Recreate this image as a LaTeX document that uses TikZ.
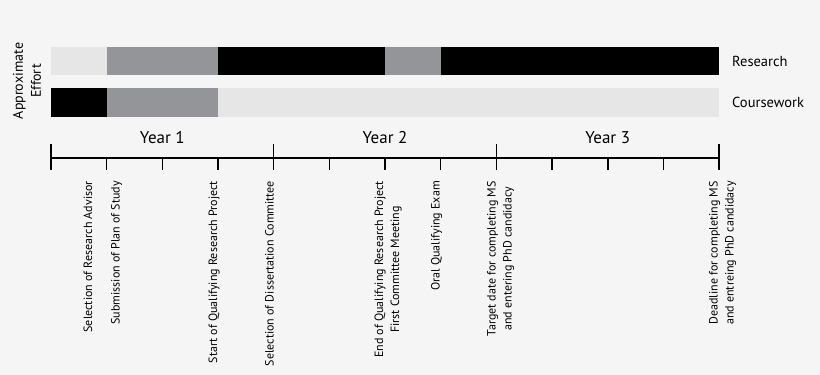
\documentclass[tikz,border=0pt]{standalone}
\usepackage{fontspec}
\setmainfont{PT Sans}
\usetikzlibrary{positioning}
\definecolor{pagebg}{HTML}{F5F5F5}
\definecolor{effortlow}{HTML}{E6E6E6}
\definecolor{effortmid}{HTML}{939598}

\begin{document}
\begin{tikzpicture}[x=1pt,y=-1pt,
  milestone/.style={rotate=90,anchor=east,inner sep=0pt,align=center,font=\fontsize{12}{16}\selectfont},
  yearlabel/.style={font=\fontsize{17}{20}\selectfont},
  rowlabel/.style={anchor=west,inner sep=0pt,font=\fontsize{14.5}{17}\selectfont}]
 \fill[pagebg] (0,0) rectangle (820,375);
 % effort bars, one unit = one third of a year
 \begin{scope}[xshift=51pt,x=55.67pt]
  \foreach \a/\b/\c in {0/1/effortlow,1/3/effortmid,3/6/black,6/7/effortmid,7/12/black}
   \fill[\c] (\a,47) rectangle (\b,75);
  \foreach \a/\b/\c in {0/1/black,1/3/effortmid,3/12/effortlow}
   \fill[\c] (\a,88) rectangle (\b,117);
  % time axis
  \draw[line width=1.6pt] (0,158) -- (12,158);
  \foreach \t in {1,2,3,5,6,7,9,10,11}{\draw[line width=1.6pt] (\t,158) -- (\t,170);}
  \foreach \t in {0,4,8,12}{\draw[line width=1.6pt] (\t,144) -- (\t,170);}
  \foreach \t/\n in {2/1,6/2,10/3}{\node[yearlabel] (year\n) at (\t,138) {Year \n};}
 \end{scope}
 \node[rowlabel] (research) at (732,61) {Research};
 \node[rowlabel] (coursework) at (732,102.5) {Coursework};
 \node[align=center,rotate=90,font=\fontsize{14}{18}\selectfont] (effort) at (27,81) {Approximate\\Effort};
 % milestones under the axis
 \node[milestone] (advisor) at (88,181) {Selection of Research Advisor};
 \node[milestone] (plan) at (116.7,181) {Submission of Plan of Study};
 \node[milestone] (qrpstart) at (214,181) {Start of Qualifying Research Project};
 \node[milestone] (committee) at (269.3,181) {Selection of Dissertation Committee};
 \node[milestone] (qrpend) at (388,181) {End of Qualifying Research Project\\First Committee Meeting};
 \node[milestone] (oral) at (436.7,181) {Oral Qualifying Exam};
 \node[milestone] (target) at (500.5,181) {Target date for completing MS\\and entering PhD candidacy};
 \node[milestone] (deadline) at (722.5,181) {Deadline for completing MS\\and entreing PhD candidacy};
\end{tikzpicture}
\end{document}
